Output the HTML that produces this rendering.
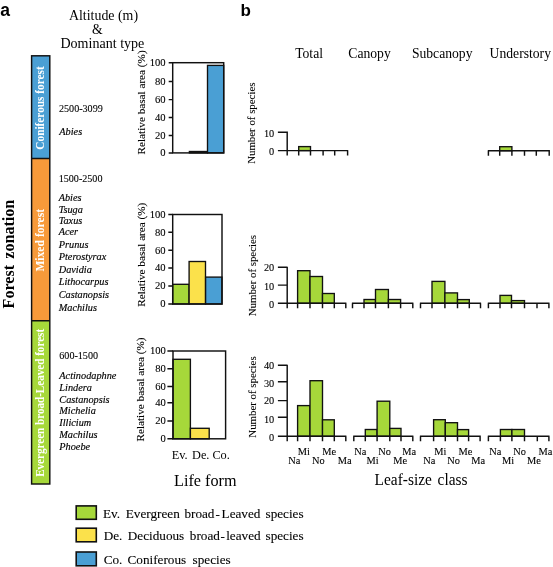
<!DOCTYPE html>
<html><head><meta charset="utf-8"><title>Forest zonation</title>
<style>
html,body{margin:0;padding:0;background:#fff;}
svg{display:block;font-family:"Liberation Serif",serif;fill:#000;}
text{stroke:#000;stroke-width:0.1;}
.i{stroke-width:0.16;}
.i{font-style:italic;}
.b{font-weight:bold;}
.w{fill:#fff;stroke:none;}
.n{stroke:none;}
.s{font-family:"Liberation Sans",sans-serif;font-weight:bold;}
.ax{stroke:#111;stroke-width:1.45;fill:none;}
.bar{stroke:#111;stroke-width:1.35;}
</style></head><body>
<svg width="553" height="567" viewBox="0 0 553 567">
<rect x="0" y="0" width="553" height="567" fill="#fff"/>
<text x="0.3" y="16" font-size="17.5" class="s n" text-anchor="start" >a</text>
<text x="240.6" y="16" font-size="17" class="s n" text-anchor="start" >b</text>
<text x="103.5" y="20" font-size="13.9" class="n" text-anchor="middle" >Altitude (m)</text>
<text x="97.4" y="34" font-size="13.7" class="n" text-anchor="middle" >&amp;</text>
<text x="102.4" y="48.3" font-size="14.05" class="n" text-anchor="middle" >Dominant type</text>
<text transform="translate(14.1,286.7) rotate(-90) scale(0.935,1)" font-size="17.2" class="b n" text-anchor="middle" >Forest</text>
<text transform="translate(14.1,229.2) rotate(-90) scale(0.935,1)" font-size="17.2" class="b n" text-anchor="middle" >zonation</text>
<rect x="31.6" y="55.8" width="18.2" height="102.7" fill="#4a9fd4"/>
<rect x="31.6" y="158.5" width="18.2" height="162.3" fill="#f79a3a"/>
<rect x="31.6" y="320.8" width="18.2" height="163.2" fill="#a6d83a"/>
<rect x="31.6" y="55.8" width="18.2" height="428.2" class="ax" stroke-width="1.4"/>
<path d="M31.6 158.5H49.8M31.6 320.8H49.8" class="ax"/>
<text transform="translate(44.2,108) rotate(-90) scale(0.915,1)" font-size="12.35" class="b w n" text-anchor="middle" >Coniferous forest</text>
<text transform="translate(43.7,240.3) rotate(-90) scale(0.915,1)" font-size="12.7" class="b w n" text-anchor="middle" >Mixed forest</text>
<text transform="translate(44.1,402.9) rotate(-90) scale(0.915,1)" font-size="12.15" class="b w n" text-anchor="middle" >Evergreen broad-Leaved forest</text>
<text x="59" y="112" font-size="10.1" class="" text-anchor="start" >2500-3099</text>
<text transform="translate(59.3,134.6) scale(0.96,1)" font-size="10.73" class="i" text-anchor="start" >Abies</text>
<text x="58.7" y="182.4" font-size="10.1" class="" text-anchor="start" >1500-2500</text>
<text transform="translate(58.7,200.9) scale(0.96,1)" font-size="10.73" class="i" text-anchor="start" >Abies</text>
<text transform="translate(58.7,212.8) scale(0.96,1)" font-size="10.73" class="i" text-anchor="start" >Tsuga</text>
<text transform="translate(58.7,224.2) scale(0.96,1)" font-size="10.73" class="i" text-anchor="start" >Taxus</text>
<text transform="translate(58.7,235.3) scale(0.96,1)" font-size="10.73" class="i" text-anchor="start" >Acer</text>
<text transform="translate(58.7,247.7) scale(0.96,1)" font-size="10.73" class="i" text-anchor="start" >Prunus</text>
<text transform="translate(58.7,259.7) scale(0.96,1)" font-size="10.73" class="i" text-anchor="start" >Pterostyrax</text>
<text transform="translate(58.7,272.9) scale(0.96,1)" font-size="10.73" class="i" text-anchor="start" >Davidia</text>
<text transform="translate(58.7,285.1) scale(0.96,1)" font-size="10.73" class="i" text-anchor="start" >Lithocarpus</text>
<text transform="translate(58.7,298.3) scale(0.96,1)" font-size="10.73" class="i" text-anchor="start" >Castanopsis</text>
<text transform="translate(58.7,310.7) scale(0.96,1)" font-size="10.73" class="i" text-anchor="start" >Machilus</text>
<text x="59.3" y="359.2" font-size="10.1" class="" text-anchor="start" >600-1500</text>
<text transform="translate(59.3,378.5) scale(0.96,1)" font-size="10.73" class="i" text-anchor="start" >Actinodaphne</text>
<text transform="translate(59.3,390.9) scale(0.96,1)" font-size="10.73" class="i" text-anchor="start" >Lindera</text>
<text transform="translate(59.3,402.5) scale(0.96,1)" font-size="10.73" class="i" text-anchor="start" >Castanopsis</text>
<text transform="translate(59.3,414.3) scale(0.96,1)" font-size="10.73" class="i" text-anchor="start" >Michelia</text>
<text transform="translate(59.3,426.0) scale(0.96,1)" font-size="10.73" class="i" text-anchor="start" >Illicium</text>
<text transform="translate(59.3,437.8) scale(0.96,1)" font-size="10.73" class="i" text-anchor="start" >Machilus</text>
<text transform="translate(59.3,449.5) scale(0.96,1)" font-size="10.73" class="i" text-anchor="start" >Phoebe</text>
<rect x="189.4" y="151.5" width="18.1" height="1.4" fill="#fbe14b" class="bar"/>
<rect x="207.5" y="65.4" width="16.2" height="87.5" fill="#4a9fd4" class="bar"/>
<rect x="172.7" y="62.7" width="51.0" height="90.2" class="ax"/>
<text x="165.6" y="156.3" font-size="10.6" class="" text-anchor="end" >0</text>
<text x="165.6" y="138.8" font-size="10.6" class="" text-anchor="end" >20</text>
<text x="165.6" y="120.9" font-size="10.6" class="" text-anchor="end" >40</text>
<text x="165.6" y="103.0" font-size="10.6" class="" text-anchor="end" >60</text>
<text x="165.6" y="84.9" font-size="10.6" class="" text-anchor="end" >80</text>
<text x="165.6" y="66.10000000000001" font-size="10.6" class="" text-anchor="end" >100</text>
<path d="M168.7 152.9H172.7M168.7 135.4H172.7M168.7 117.5H172.7M168.7 99.6H172.7M168.7 81.5H172.7M168.7 62.7H172.7" class="ax"/>
<text transform="translate(145.3,102.4) rotate(-90)" font-size="11.2" class="" text-anchor="middle" >Relative basal area (%)</text>
<rect x="172.7" y="284.3" width="16.4" height="19.7" fill="#a6d83a" class="bar"/>
<rect x="189.1" y="261.5" width="16.4" height="42.5" fill="#fbe14b" class="bar"/>
<rect x="205.6" y="277.1" width="16.4" height="26.9" fill="#4a9fd4" class="bar"/>
<rect x="172.7" y="214.5" width="49.3" height="89.5" class="ax"/>
<text x="165.6" y="307.4" font-size="10.6" class="" text-anchor="end" >0</text>
<text x="165.6" y="289.4" font-size="10.6" class="" text-anchor="end" >20</text>
<text x="165.6" y="271.4" font-size="10.6" class="" text-anchor="end" >40</text>
<text x="165.6" y="253.6" font-size="10.6" class="" text-anchor="end" >60</text>
<text x="165.6" y="235.6" font-size="10.6" class="" text-anchor="end" >80</text>
<text x="165.6" y="217.9" font-size="10.6" class="" text-anchor="end" >100</text>
<path d="M168.29999999999998 304.0H172.7M168.29999999999998 286.0H172.7M168.29999999999998 268.0H172.7M168.29999999999998 250.2H172.7M168.29999999999998 232.2H172.7M168.29999999999998 214.5H172.7" class="ax"/>
<text transform="translate(145.3,254.7) rotate(-90)" font-size="11.2" class="" text-anchor="middle" >Relative basal area (%)</text>
<rect x="173.0" y="359.3" width="17.4" height="79.5" fill="#a6d83a" class="bar"/>
<rect x="190.4" y="428.3" width="18.8" height="10.5" fill="#fbe14b" class="bar"/>
<rect x="173" y="351" width="52.6" height="87.8" class="ax"/>
<text x="165.9" y="442.2" font-size="10.6" class="" text-anchor="end" >0</text>
<text x="165.9" y="424.29999999999995" font-size="10.6" class="" text-anchor="end" >20</text>
<text x="165.9" y="406.2" font-size="10.6" class="" text-anchor="end" >40</text>
<text x="165.9" y="389.79999999999995" font-size="10.6" class="" text-anchor="end" >60</text>
<text x="165.9" y="372.09999999999997" font-size="10.6" class="" text-anchor="end" >80</text>
<text x="165.9" y="354.4" font-size="10.6" class="" text-anchor="end" >100</text>
<path d="M167.4 438.8H173M167.4 420.9H173M167.4 402.8H173M167.4 386.4H173M167.4 368.7H173M167.4 351.0H173" class="ax"/>
<text transform="translate(144.4,389.5) rotate(-90)" font-size="11.2" class="" text-anchor="middle" >Relative basal area (%)</text>
<text x="171.7" y="458.8" font-size="12.3" class="n" text-anchor="start" >Ev.</text>
<text x="192" y="458.8" font-size="12.3" class="n" text-anchor="start" >De.</text>
<text x="212.4" y="458.8" font-size="12.3" class="n" text-anchor="start" >Co.</text>
<text x="205.3" y="485.6" font-size="16.2" class="n" text-anchor="middle" >Life form</text>
<rect x="298.7" y="146.6" width="11.8" height="4.0" fill="#a6d83a" class="bar"/>
<text x="274.2" y="155.2" font-size="10.3" class="" text-anchor="end" >0</text>
<text x="274.2" y="137.4" font-size="10.3" class="" text-anchor="end" >10</text>
<path d="M277.9 150.6H348.2M287.2 150.6v5M298.7 150.6v5M310.5 150.6v5M323.1 150.6v5M334.7 150.6v5M347.6 150.6v5M287.2 150.6V131.5M277.9 132.2H287.2" class="ax"/>
<rect x="499.7" y="146.7" width="12.2" height="4.0" fill="#a6d83a" class="bar"/>
<path d="M487.8 150.7H549.9M488.4 150.7v5M499.7 150.7v5M511.9 150.7v5M524.5 150.7v5M536.3 150.7v5M549.2 150.7v5" class="ax"/>
<rect x="297.6" y="270.7" width="12.4" height="32.6" fill="#a6d83a" class="bar"/>
<rect x="310.0" y="276.5" width="12.5" height="26.8" fill="#a6d83a" class="bar"/>
<rect x="322.5" y="293.5" width="11.8" height="9.8" fill="#a6d83a" class="bar"/>
<text x="274.2" y="307.9" font-size="10.3" class="" text-anchor="end" >0</text>
<text x="274.2" y="289.9" font-size="10.3" class="" text-anchor="end" >10</text>
<text x="274.2" y="270.5" font-size="10.3" class="" text-anchor="end" >20</text>
<path d="M277.9 303.3H346.4M287.2 303.3v5M297.6 303.3v5M310.0 303.3v5M322.5 303.3v5M334.3 303.3v5M345.8 303.3v5M287.2 303.3V266.7M277.9 285.1H287.2M277.9 267.3H287.2" class="ax"/>
<rect x="364.0" y="299.5" width="11.5" height="3.8" fill="#a6d83a" class="bar"/>
<rect x="375.5" y="289.5" width="12.9" height="13.8" fill="#a6d83a" class="bar"/>
<rect x="388.4" y="299.5" width="12.2" height="3.8" fill="#a6d83a" class="bar"/>
<path d="M351.9 303.3H413.4M352.5 303.3v5M364.0 303.3v5M375.5 303.3v5M388.4 303.3v5M400.6 303.3v5M412.8 303.3v5" class="ax"/>
<rect x="432.0" y="281.4" width="12.9" height="21.9" fill="#a6d83a" class="bar"/>
<rect x="444.9" y="292.9" width="12.6" height="10.4" fill="#a6d83a" class="bar"/>
<rect x="457.5" y="299.6" width="11.8" height="3.7" fill="#a6d83a" class="bar"/>
<path d="M419.9 303.3H481.1M420.5 303.3v5M432.0 303.3v5M444.9 303.3v5M457.5 303.3v5M469.3 303.3v5M480.5 303.3v5" class="ax"/>
<rect x="500.0" y="295.4" width="11.5" height="7.9" fill="#a6d83a" class="bar"/>
<rect x="511.5" y="300.6" width="13.0" height="2.7" fill="#a6d83a" class="bar"/>
<path d="M487.8 303.3H549.5M488.4 303.3v5M500.0 303.3v5M511.5 303.3v5M524.5 303.3v5M537.0 303.3v5M548.9 303.3v5" class="ax"/>
<rect x="297.6" y="405.6" width="12.4" height="30.7" fill="#a6d83a" class="bar"/>
<rect x="310.0" y="380.7" width="12.5" height="55.6" fill="#a6d83a" class="bar"/>
<rect x="322.5" y="419.8" width="11.8" height="16.5" fill="#a6d83a" class="bar"/>
<text x="274.2" y="441.2" font-size="10.3" class="" text-anchor="end" >0</text>
<text x="274.2" y="423" font-size="10.3" class="" text-anchor="end" >10</text>
<text x="274.2" y="404.1" font-size="10.3" class="" text-anchor="end" >20</text>
<text x="274.2" y="386.5" font-size="10.3" class="" text-anchor="end" >30</text>
<text x="274.2" y="368.5" font-size="10.3" class="" text-anchor="end" >40</text>
<path d="M277.9 436.3H346.4M287.2 436.3v5M297.6 436.3v5M310.0 436.3v5M322.5 436.3v5M334.3 436.3v5M345.8 436.3v5M287.2 436.3V364.7M277.9 417.3H287.2M277.9 400.6H287.2M277.9 381.7H287.2M277.9 365.3H287.2" class="ax"/>
<rect x="365.3" y="429.5" width="11.8" height="6.8" fill="#a6d83a" class="bar"/>
<rect x="377.1" y="401.2" width="12.7" height="35.1" fill="#a6d83a" class="bar"/>
<rect x="389.8" y="428.4" width="11.2" height="7.9" fill="#a6d83a" class="bar"/>
<path d="M353.2 436.3H413.4M353.8 436.3v5M365.3 436.3v5M377.1 436.3v5M389.8 436.3v5M401.0 436.3v5M412.8 436.3v5" class="ax"/>
<rect x="433.6" y="419.7" width="11.7" height="16.6" fill="#a6d83a" class="bar"/>
<rect x="445.3" y="422.7" width="12.2" height="13.6" fill="#a6d83a" class="bar"/>
<rect x="457.5" y="429.6" width="11.1" height="6.7" fill="#a6d83a" class="bar"/>
<path d="M419.9 436.3H480.8M420.5 436.3v5M433.6 436.3v5M445.3 436.3v5M457.5 436.3v5M468.6 436.3v5M480.1 436.3v5" class="ax"/>
<rect x="500.4" y="429.5" width="11.5" height="6.8" fill="#a6d83a" class="bar"/>
<rect x="511.9" y="429.5" width="12.6" height="6.8" fill="#a6d83a" class="bar"/>
<path d="M487.8 436.3H549.5M488.4 436.3v5M500.4 436.3v5M511.9 436.3v5M524.5 436.3v5M537.3 436.3v5M548.9 436.3v5" class="ax"/>
<text transform="translate(255.2,123.2) rotate(-90)" font-size="10.85" class="" text-anchor="middle" >Number of species</text>
<text transform="translate(255.5,275.6) rotate(-90)" font-size="10.85" class="" text-anchor="middle" >Number of species</text>
<text transform="translate(255.8,397) rotate(-90)" font-size="10.85" class="" text-anchor="middle" >Number of species</text>
<text x="309.1" y="58" font-size="13.65" class="n" text-anchor="middle" >Total</text>
<text x="369.5" y="58" font-size="13.65" class="n" text-anchor="middle" >Canopy</text>
<text x="442.2" y="58" font-size="13.65" class="n" text-anchor="middle" >Subcanopy</text>
<text x="520.3" y="58" font-size="13.65" class="n" text-anchor="middle" >Understory</text>
<text x="303.9" y="454.8" font-size="10.4" class="" text-anchor="middle" >Mi</text>
<text x="329.1" y="454.8" font-size="10.4" class="" text-anchor="middle" >Me</text>
<text x="294.4" y="464" font-size="10.4" class="" text-anchor="middle" >Na</text>
<text x="318.3" y="464" font-size="10.4" class="" text-anchor="middle" >No</text>
<text x="344.6" y="464" font-size="10.4" class="" text-anchor="middle" >Ma</text>
<text x="360.3" y="454.8" font-size="10.4" class="" text-anchor="middle" >Na</text>
<text x="384.7" y="454.8" font-size="10.4" class="" text-anchor="middle" >No</text>
<text x="409.1" y="454.8" font-size="10.4" class="" text-anchor="middle" >Ma</text>
<text x="372.5" y="464" font-size="10.4" class="" text-anchor="middle" >Mi</text>
<text x="400.2" y="464" font-size="10.4" class="" text-anchor="middle" >Me</text>
<text x="440.4" y="454.8" font-size="10.4" class="" text-anchor="middle" >Mi</text>
<text x="465.4" y="454.8" font-size="10.4" class="" text-anchor="middle" >Me</text>
<text x="429.3" y="464" font-size="10.4" class="" text-anchor="middle" >Na</text>
<text x="453.7" y="464" font-size="10.4" class="" text-anchor="middle" >No</text>
<text x="478.1" y="464" font-size="10.4" class="" text-anchor="middle" >Ma</text>
<text x="495.2" y="454.8" font-size="10.4" class="" text-anchor="middle" >Na</text>
<text x="519.6" y="454.8" font-size="10.4" class="" text-anchor="middle" >No</text>
<text x="545.4" y="454.8" font-size="10.4" class="" text-anchor="middle" >Ma</text>
<text x="508" y="464" font-size="10.4" class="" text-anchor="middle" >Mi</text>
<text x="534" y="464" font-size="10.4" class="" text-anchor="middle" >Me</text>
<text transform="translate(374.6,485.4) scale(0.965,1)" font-size="15.96" class="n" text-anchor="start" >Leaf-size</text>
<text transform="translate(437.6,485.4) scale(0.965,1)" font-size="15.96" class="n" text-anchor="start" >class</text>
<rect x="76.2" y="505.9" width="20.1" height="13.4" fill="#a6d83a" class="bar" style="stroke-width:1.6"/>
<rect x="76.2" y="528.2" width="20.1" height="13.6" fill="#fbe14b" class="bar" style="stroke-width:1.6"/>
<rect x="76.2" y="552" width="20.1" height="13.8" fill="#4a9fd4" class="bar" style="stroke-width:1.6"/>
<text y="517.5" font-size="13.2" letter-spacing="0"><tspan x="103.0">Ev.</tspan><tspan x="125.8">Evergreen</tspan><tspan x="184.4">broad</tspan><tspan x="215.6">-</tspan><tspan x="221.6">Leaved</tspan><tspan x="265.5">species</tspan></text>
<text y="540.2" font-size="13.2" letter-spacing="0"><tspan x="103.7">De.</tspan><tspan x="127.8">Deciduous</tspan><tspan x="189.8">broad</tspan><tspan x="220.4">-</tspan><tspan x="226.2">leaved</tspan><tspan x="265.5">species</tspan></text>
<text y="563.7" font-size="13.2" letter-spacing="0"><tspan x="103.7">Co.</tspan><tspan x="127.5">Coniferous</tspan><tspan x="192.6">species</tspan></text>
</svg></body></html>
